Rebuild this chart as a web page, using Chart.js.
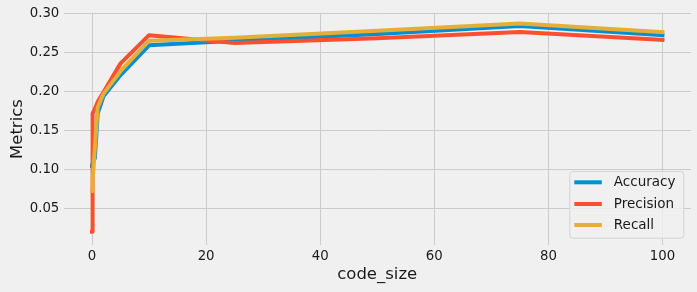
<!DOCTYPE html>
<html>
<head>
<meta charset="utf-8">
<script src="https://cdn.jsdelivr.net/npm/chart.js@4/dist/chart.umd.min.js"></script>
<style>
  html, body { margin: 0; padding: 0; background: #f0f0f0; }
  #wrap { width: 697px; height: 292px; position: relative; }
</style>
</head>
<body>
<div id="wrap"><canvas id="c" width="697" height="292"></canvas></div>
<script>
const codeSizes = [0, 0.1, 0.5, 1, 2, 5, 10, 25, 50, 75, 100];
const accuracy  = [0.105, 0.108, 0.115, 0.172, 0.194, 0.221, 0.259, 0.265, 0.2735, 0.2836, 0.272];
const precision = [0.021, 0.172, 0.178, 0.187, 0.199, 0.236, 0.272, 0.262, 0.268, 0.276, 0.266];
const recall    = [0.073, 0.085, 0.128, 0.180, 0.197, 0.226, 0.265, 0.2687, 0.2776, 0.287, 0.276];
const seriesNames = ['Accuracy', 'Precision', 'Recall'];
const xTicks = [0, 20, 40, 60, 80, 100];
const yTicks = [0.05, 0.10, 0.15, 0.20, 0.25, 0.30];
const xTitle = 'code_size';
const yTitle = 'Metrics';

const colors = ['#008fd5', '#fc4f30', '#e5ae38'];
const FONT = 'DejaVu Sans';

function pts(ys) { return codeSizes.map((x, i) => ({x: x, y: ys[i]})); }

const legendPlugin = {
  id: 'boxLegend',
  afterDraw(chart) {
    const ctx = chart.ctx;
    const ca = chart.chartArea;
    const bx = ca.right - 121.7, by = ca.bottom - 74.3, bw = 114, bh = 66.7;
    ctx.save();
    ctx.beginPath();
    if (ctx.roundRect) ctx.roundRect(bx + 0.5, by + 0.5, bw, bh, 3); else ctx.rect(bx + 0.5, by + 0.5, bw, bh);
    ctx.fillStyle = 'rgba(240,240,240,0.8)';
    ctx.fill();
    ctx.strokeStyle = '#d3d3d3';
    ctx.lineWidth = 1;
    ctx.stroke();
    const rows = [by + 11.3, by + 33, by + 54];
    chart.data.datasets.forEach((ds, i) => {
      const y = rows[i];
      ctx.beginPath();
      ctx.moveTo(bx + 5, y);
      ctx.lineTo(bx + 32.5, y);
      ctx.strokeStyle = ds.borderColor;
      ctx.lineWidth = 4;
      ctx.lineCap = 'butt';
      ctx.stroke();
      ctx.fillStyle = '#1a1a1a';
      ctx.font = '13.5px "' + FONT + '"';
      ctx.textBaseline = 'middle';
      ctx.textAlign = 'left';
      ctx.fillText(ds.label, bx + 44.5, y + 0.5);
    });
    ctx.restore();
  }
};

const bgPlugin = {
  id: 'bg',
  beforeDraw(chart) {
    const ctx = chart.ctx;
    ctx.save();
    ctx.fillStyle = '#f0f0f0';
    ctx.fillRect(0, 0, chart.width, chart.height);
    ctx.restore();
  }
};

const seriesData = [accuracy, precision, recall];

new Chart(document.getElementById('c'), {
  type: 'line',
  data: {
    datasets: seriesNames.map((name, i) => ({
      label: name,
      data: pts(seriesData[i]),
      borderColor: colors[i],
      backgroundColor: colors[i],
      borderWidth: 4,
      pointRadius: 0,
      pointHoverRadius: 0,
      tension: 0,
      fill: false,
      borderCapStyle: 'square',
      borderJoinStyle: 'round',
      order: 3 - i
    }))
  },
  options: {
    responsive: false,
    animation: false,
    devicePixelRatio: 1,
    layout: { padding: { left: 0, right: 6, top: 12.8, bottom: 0 } },
    plugins: { legend: { display: false }, tooltip: { enabled: false } },
    scales: {
      x: {
        type: 'linear',
        min: -5, max: 105,
        afterBuildTicks: (axis) => { axis.ticks = xTicks.map(v => ({value: v})); },
        afterFit: (scale) => { scale.height = 46.7; },
        grid: { color: '#cbcbcb', lineWidth: 1, drawTicks: false },
        border: { display: false },
        ticks: { padding: 3.5, color: '#1a1a1a', font: { family: FONT, size: 13.3 }, maxRotation: 0,
                 callback: (v) => String(v) },
        title: { display: true, text: xTitle, color: '#1a1a1a', font: { family: FONT, size: 16.5 },
                 padding: { top: 0, bottom: 7.4 } }
      },
      y: {
        type: 'linear',
        min: 0.0036, max: 0.3006,
        afterBuildTicks: (axis) => { axis.ticks = yTicks.map(v => ({value: v})); },
        afterFit: (scale) => { scale.width = 63.5; },
        grid: { color: '#cbcbcb', lineWidth: 1, drawTicks: false },
        border: { display: false },
        ticks: { padding: 4.2, color: '#1a1a1a', font: { family: FONT, size: 13.3 },
                 callback: (v) => v.toFixed(2) },
        title: { display: true, text: yTitle, color: '#1a1a1a', font: { family: FONT, size: 16.5 },
                 padding: { top: 7.6, bottom: 0 } }
      }
    }
  },
  plugins: [bgPlugin, legendPlugin]
});
</script>
</body>
</html>
